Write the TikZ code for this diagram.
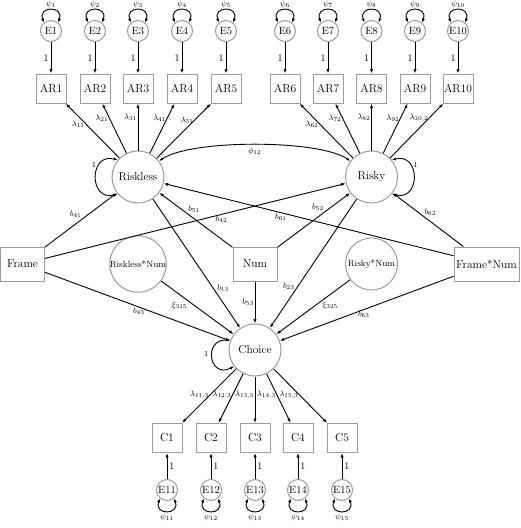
\documentclass[tikz,border=0pt]{standalone}
\usepackage{fontspec}
\usetikzlibrary{arrows.meta}
\definecolor{nodegray}{RGB}{155,155,155}
\begin{document}
\begin{tikzpicture}[x=1pt,y=1pt,
  lat/.style={circle,draw=nodegray,line width=1pt,minimum size=52pt,inner sep=0pt,font=\fontsize{11.5}{13}\selectfont},
  latsm/.style={lat,font=\fontsize{9}{10}\selectfont},
  err/.style={circle,draw=nodegray,line width=1pt,minimum size=21pt,inner sep=0pt,font=\fontsize{10.5}{12}\selectfont},
  obs/.style={rectangle,draw=nodegray,line width=1pt,minimum width=30pt,minimum height=29pt,inner sep=1pt,font=\fontsize{11.5}{13}\selectfont},
  pred/.style={obs,minimum width=44pt,minimum height=34pt},
  arr/.style={-{Latex[length=4.5pt,width=3.2pt]},line width=0.9pt},
  dbl/.style={{Latex[length=4pt,width=3pt]}-{Latex[length=4pt,width=3pt]},line width=0.9pt},
  lbl/.style={font=\fontsize{8.5}{10}\selectfont,inner sep=1pt},
  one/.style={font=\fontsize{10}{12}\selectfont,inner sep=2pt},
  onesm/.style={font=\fontsize{8}{9}\selectfont,inner sep=1.5pt},
  psi/.style={font=\fontsize{8}{9}\selectfont,inner sep=1pt},
]
\useasboundingbox (0,0) rectangle (520,-528);

% top indicators
\foreach \i/\x in {1/51,2/95,3/138,4/182,5/226,6/285,7/328,8/371.5,9/415,10/458} {
  \node[err] (e\i) at (\x,-31) {E\i};
  \node[obs] (ar\i) at (\x,-88.5) {AR\i};
  \draw[arr] (e\i) -- node[one,left]{1} (ar\i);
  \draw[dbl] (e\i.130) .. controls +(110:18) and +(70:18) .. (e\i.50) node[psi,above,pos=0.5]{$\psi_{\i}$};
}

% latent and predictor nodes
\node[lat] (riskless) at (138,-177) {Riskless};
\node[lat] (risky) at (371.5,-177) {Risky};
\node[pred] (frame) at (22.5,-264) {Frame};
\node[pred] (num) at (255,-264) {Num};
\node[pred,minimum width=65pt] (framenum) at (486.5,-264) {Frame*Num};
\node[latsm] (rlnum) at (138,-264) {Riskless*Num};
\node[latsm] (rynum) at (371.5,-264) {Risky*Num};
\node[lat] (choice) at (255,-350) {Choice};

% loadings Riskless
\foreach \i/\t in {1/0.60,2/0.665,3/0.68,4/0.665,5/0.645} {
  \draw[arr] (riskless) -- (ar\i);
  \path (riskless.center) -- (ar\i.center) node[lbl,pos=\t,anchor=east]{$\lambda_{\i1}$};
}
% loadings Risky
\foreach \i/\t in {6/0.60,7/0.665,8/0.68,9/0.665} {
  \draw[arr] (risky) -- (ar\i);
  \path (risky.center) -- (ar\i.center) node[lbl,pos=\t,anchor=east]{$\lambda_{\i2}$};
}
\draw[arr] (risky) -- (ar10);
\path (risky.center) -- (ar10.center) node[lbl,pos=0.67,anchor=east]{$\lambda_{10,2}$};

% covariance
\draw[dbl] (riskless.37) .. controls +(35:38) and +(145:38) .. (risky.143) node[lbl,below=1.5pt,pos=0.5]{$\phi_{12}$};

% variances
\draw[dbl] (riskless.140) .. controls +(165:30) and +(195:30) .. (riskless.220) node[onesm,pos=0.28,left=2pt]{1};
\draw[dbl] (risky.40) .. controls +(15:30) and +(-15:30) .. (risky.-40) node[onesm,pos=0.28,right=2pt]{1};
\draw[dbl] (choice.158) .. controls +(178:28) and +(208:28) .. (choice.218) node[onesm,pos=0.42,left=2pt]{1};

% regressions
\draw[arr] (frame) -- (riskless);
\path (frame.center) -- (riskless.center) node[lbl,pos=0.52,anchor=south east]{$b_{41}$};
\draw[arr] (frame) -- (risky);
\path (frame.center) -- (risky.center) node[lbl,pos=0.57,anchor=north,inner sep=1.5pt]{$b_{42}$};
\draw[arr] (frame) -- (choice);
\path (frame.center) -- (choice.center) node[lbl,pos=0.5,anchor=north]{$b_{43}$};
\draw[arr] (num) -- (riskless);
\path (num.center) -- (riskless.center) node[lbl,pos=0.58,anchor=south west]{$b_{51}$};
\draw[arr] (num) -- (risky);
\path (num.center) -- (risky.center) node[lbl,pos=0.6,anchor=south east]{$b_{52}$};
\draw[arr] (num) -- (choice);
\path (num.center) -- (choice.center) node[lbl,pos=0.44,anchor=east]{$b_{53}$};
\draw[arr] (framenum) -- (riskless);
\path (framenum.center) -- (riskless.center) node[lbl,pos=0.59,anchor=north]{$b_{61}$};
\draw[arr] (framenum) -- (risky);
\path (framenum.center) -- (risky.center) node[lbl,pos=0.545,anchor=south west,inner sep=0.5pt]{$b_{62}$};
\draw[arr] (framenum) -- (choice);
\path (framenum.center) -- (choice.center) node[lbl,pos=0.53,anchor=north]{$b_{63}$};
\draw[arr] (riskless) -- (choice);
\path (riskless.center) -- (choice.center) node[lbl,pos=0.668,anchor=south west]{$b_{13}$};
\draw[arr] (risky) -- (choice);
\path (risky.center) -- (choice.center) node[lbl,pos=0.655,anchor=south east,inner sep=0.5pt]{$b_{23}$};
\draw[arr] (rlnum) -- (choice);
\path (rlnum.center) -- (choice.center) node[lbl,pos=0.43,anchor=north east]{$\xi_{315}$};
\draw[arr] (rynum) -- (choice);
\path (rynum.center) -- (choice.center) node[lbl,pos=0.43,anchor=north west]{$\xi_{325}$};

% bottom indicators
\foreach \j/\i/\x in {1/11/167,2/12/211,3/13/255,4/14/298,5/15/342} {
  \node[obs] (c\j) at (\x,-438) {C\j};
  \node[err] (e\i) at (\x,-490) {E\i};
  \draw[arr] (e\i) -- node[one,right]{1} (c\j);
  \draw[dbl] (e\i.230) .. controls +(250:18) and +(290:18) .. (e\i.310) node[psi,below=1.5pt,pos=0.5]{$\psi_{\i}$};
  \draw[arr] (choice) -- (c\j);
  \path (choice.center) -- (c\j.center) node[lbl,pos=0.511,anchor=east]{$\lambda_{\i,3}$};
}
\end{tikzpicture}
\end{document}
